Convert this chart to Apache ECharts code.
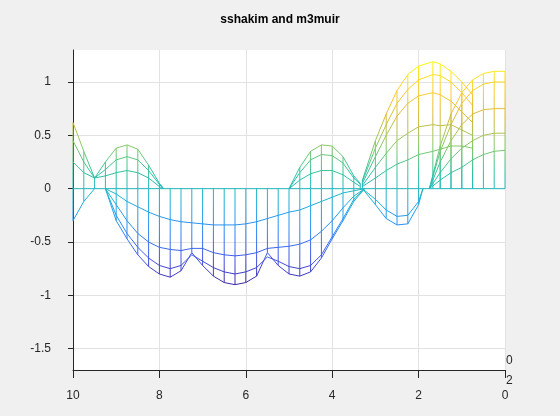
<!DOCTYPE html>
<html><head><meta charset="utf-8">
<script src="https://cdn.jsdelivr.net/npm/echarts@6/dist/echarts.min.js"></script>
<style>html,body{margin:0;background:#f0f0f0}#c{width:560px;height:416px}</style>
</head><body><div id="c"></div>
<script>
const xsNeg=[9.25,9,8.75,8.5,8.25,8,7.75,7.5,7.25,7,6.75,6.5,6.25,6,5.75,5.5,5.25,5,4.75,4.5,4.25,4,3.75,3.5,3.25];
const N1=[0,-0.3,-0.47,-0.62,-0.73,-0.8,-0.83,-0.77,-0.6,-0.72,-0.82,-0.88,-0.9,-0.88,-0.82,-0.6,-0.72,-0.8,-0.82,-0.78,-0.65,-0.47,-0.3,-0.12,0];
const N2=[0,-0.25,-0.42,-0.55,-0.65,-0.72,-0.75,-0.72,-0.62,-0.68,-0.74,-0.78,-0.8,-0.78,-0.74,-0.64,-0.68,-0.73,-0.75,-0.72,-0.62,-0.45,-0.28,-0.1,0];
const N3=[0,-0.15,-0.3,-0.42,-0.5,-0.55,-0.57,-0.58,-0.56,-0.56,-0.6,-0.62,-0.63,-0.62,-0.6,-0.56,-0.55,-0.54,-0.52,-0.48,-0.4,-0.3,-0.18,-0.07,0];
const N4=[0,-0.05,-0.12,-0.17,-0.22,-0.26,-0.29,-0.31,-0.32,-0.33,-0.34,-0.34,-0.34,-0.33,-0.31,-0.28,-0.25,-0.22,-0.2,-0.16,-0.12,-0.08,-0.04,-0.02,0];
const xsEdge=[10,9.75,9.5];
const E1=[-0.3,-0.12,0];
const xsLeft=[10,9.75,9.5,9.25,9,8.75,8.5,8.25,8,7.9];
const L1=[0.62,0.35,0.1,0.25,0.38,0.41,0.37,0.22,0.05,0];
const L2=[0.45,0.25,0.1,0.18,0.27,0.3,0.27,0.17,0.04,0];
const L3=[0.25,0.15,0.1,0.12,0.15,0.17,0.15,0.1,0.02,0];
const xsMid=[5,4.75,4.5,4.25,4,3.75,3.5,3.35];
const M1=[0,0.2,0.35,0.41,0.4,0.3,0.12,0.05];
const M2=[0,0.15,0.27,0.32,0.31,0.24,0.1,0.04];
const M3=[0,0.08,0.14,0.17,0.17,0.13,0.06,0.02];
const xsBig=[3.3,3,2.75,2.5,2.25,2,1.67,1.5,1.25,1,0.75];
const R1=[0.08,0.45,0.7,0.92,1.07,1.15,1.19,1.17,1.1,1.0,0.88];
const R2=[0.07,0.38,0.6,0.8,0.93,1.02,1.07,1.06,1.0,0.9,0.78];
const R3=[0.05,0.3,0.5,0.68,0.8,0.87,0.9,0.88,0.82,0.72,0.62];
const R4=[0.03,0.2,0.33,0.45,0.52,0.58,0.6,0.59,0.6,0.55,0.5];
const R5=[0.02,0.1,0.17,0.23,0.27,0.32,0.35,0.37,0.4,0.4,0.38];
const xsEnd=[1.75,1.5,1.25,1,0.75,0.5,0.25,0];
const S1=[0,0.4,0.7,0.9,1.02,1.08,1.1,1.1];
const S2=[0,0.35,0.6,0.8,0.92,0.98,1.0,1.0];
const S3=[0,0.25,0.45,0.6,0.7,0.74,0.75,0.75];
const S4=[0,0.15,0.28,0.38,0.45,0.5,0.52,0.52];
const S5=[0,0.08,0.15,0.2,0.27,0.32,0.35,0.36];
const xsDip=[3.3,3,2.75,2.5,2.25,2,1.9];
const D1=[0,-0.15,-0.28,-0.34,-0.33,-0.15,0];
const D2=[0,-0.1,-0.2,-0.26,-0.25,-0.12,0];
const yTicks=[-1.5,-1,-0.5,0,0.5,1];
const xTicks=[0,2,4,6,8,10];

const rows=[[xsNeg,[N1,N2,N3,N4]],[xsEdge,[E1]],[xsLeft,[L1,L2,L3]],[xsMid,[M1,M2,M3]],
 [xsBig,[R1,R2,R3,R4,R5]],[xsEnd,[S1,S2,S3,S4,S5]],[xsDip,[D1,D2]]];
const series=[];
const line=d=>({type:'line',data:d,symbol:'none',lineStyle:{width:1},silent:true});
series.push(line([[10,0],[0,0]]));
rows.forEach(([xs,rs])=>{
  rs.forEach(r=>series.push(line(xs.map((x,i)=>[x,r[i]]))));
  xs.forEach((x,i)=>{ if(rs[0][i]!==0) series.push(line([[x,0],[x,rs[0][i]]])); });
});
const F='Liberation Sans, Arial';
const chart=echarts.init(document.getElementById('c'));
chart.setOption({
  animation:false,
  title:{text:'sshakim and m3muir',left:'center',top:9,textStyle:{fontSize:12,fontWeight:'bold',color:'#000',fontFamily:F}},
  grid:{left:73,right:55,top:50,bottom:46,show:true,backgroundColor:'#fff',borderWidth:0},
  visualMap:{show:false,type:'continuous',dimension:1,min:-0.9,max:1.2,
    inRange:{color:['#3e26a8','#4357e6','#2c8af9','#1cb0d8','#31c29d','#8ac964','#d8ba3b','#fcce2e','#f9fb0e']}},
  xAxis:{type:'value',min:0,max:10,inverse:true,
    axisLine:{show:true,onZero:false,lineStyle:{color:'#262626'}},axisTick:{show:true,customValues:xTicks,inside:false,length:8,lineStyle:{color:'#262626'}},
    axisLabel:{customValues:xTicks,color:'#262626',fontSize:12,margin:20,fontFamily:F},
    splitLine:{show:true,lineStyle:{color:'#e2e2e2'}}},
  yAxis:{type:'value',min:-1.7,max:1.3,
    axisLine:{show:true,onZero:false,lineStyle:{color:'#262626'}},axisTick:{show:true,customValues:yTicks,inside:false,length:5,lineStyle:{color:'#262626'}},
    axisLabel:{customValues:yTicks,color:'#262626',fontSize:12,margin:22,fontFamily:F},
    splitLine:{show:true,lineStyle:{color:'#e2e2e2'}}},
  graphic:[
    {type:'text',left:506,top:355,style:{text:'0',fontSize:12,fill:'#262626',fontFamily:F}},
    {type:'text',left:506,top:375,style:{text:'2',fontSize:12,fill:'#262626',fontFamily:F}}
  ],
  series
});
</script></body></html>
